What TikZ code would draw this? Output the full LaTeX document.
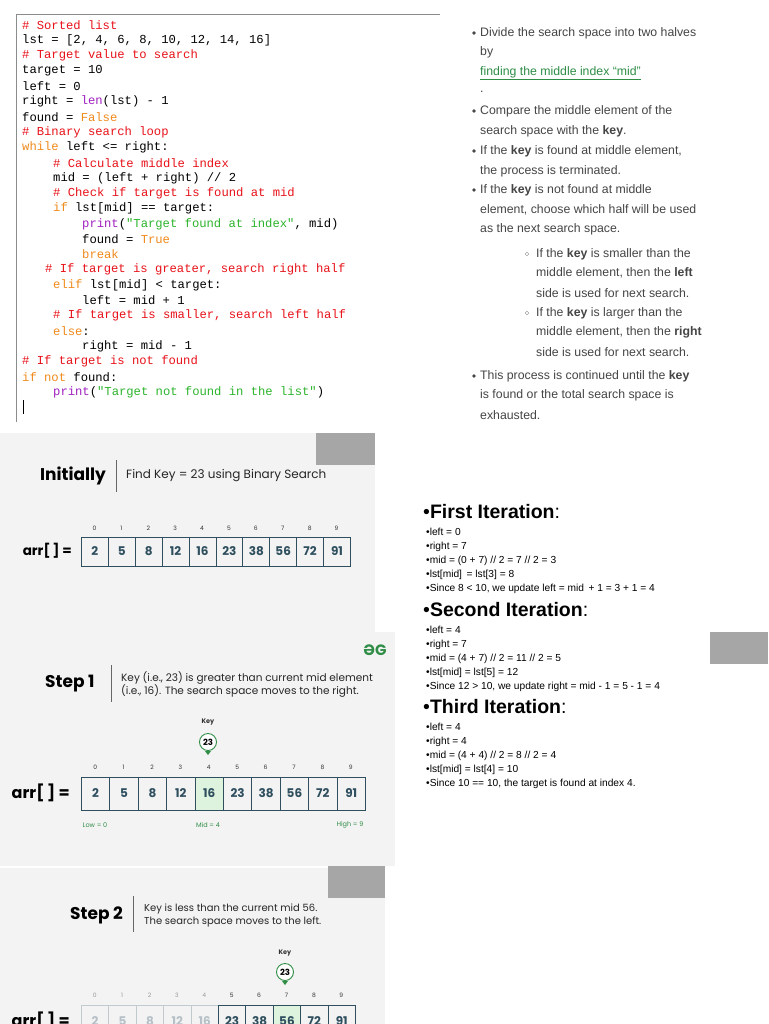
\documentclass[tikz,border=0pt]{standalone}
\usepackage{fontspec}
\setmainfont{Liberation Sans}
\setmonofont{Liberation Mono}
\newfontfamily\pop{Poppins}
\usetikzlibrary{shapes.geometric}
\definecolor{cm}{HTML}{E8121A}
\definecolor{kw}{HTML}{F08A1C}
\definecolor{st}{HTML}{2DB42D}
\definecolor{bi}{HTML}{A020C0}
\definecolor{txt}{HTML}{454545}
\definecolor{panel}{HTML}{F3F3F3}
\definecolor{cellc}{HTML}{2F4F5F}
\definecolor{gg}{HTML}{2F8D46}
\definecolor{lg}{HTML}{DDF3DD}
\tikzset{
  code/.style={anchor=west,inner sep=0pt,font=\ttfamily\fontsize{12.2}{12}\selectfont},
  bul/.style={anchor=west,inner sep=0pt,text=txt,font=\fontsize{12.3}{14}\selectfont},
  it/.style={anchor=west,inner sep=0pt,font=\fontsize{10.2}{11}\selectfont},
  ithead/.style={anchor=west,inner sep=0pt,font=\fontsize{19.5}{21}\selectfont},
  cellbox/.style={draw=cellc,line width=0.9pt,minimum height=#1,inner sep=0pt,anchor=west,text=cellc,font=\pop\bfseries\fontsize{12}{12}\selectfont},
  idx/.style={inner sep=0pt,font=\pop\fontsize{6}{7}\selectfont,text=black!80},
  stepttl/.style={anchor=west,inner sep=0pt,font=\pop\bfseries\fontsize{17}{18}\selectfont},
  steptxt/.style={anchor=west,inner sep=0pt,align=left,font=\pop\fontsize{10.5}{13}\selectfont,text=black!85},
  grey/.style={fill=black!35},
}
\begin{document}
\begin{tikzpicture}[x=1pt,y=-1pt]
\useasboundingbox (0,0) rectangle (768,1024);
\fill[white] (0,0) rectangle (768,1024);
% code box
\draw[black!45,line width=1pt] (16,422) -- (16,15) -- (440,15);
\node[code] (c1) at (22,25) {\textcolor{cm}{\# Sorted list}};
\node[code] (c2) at (22,40.3) {lst = [2, 4, 6, 8, 10, 12, 14, 16]};
\node[code] (c3) at (22,55.6) {\textcolor{cm}{\# Target value to search}};
\node[code] (c4) at (22,70.9) {target = 10};
\node[code] (c5) at (22,86.2) {left = 0};
\node[code] (c6) at (22,101.5) {right = \textcolor{bi}{len}(lst) - 1};
\node[code] (c7) at (22,116.8) {found = \textcolor{kw}{False}};
\node[code] (c8) at (22,132.1) {\textcolor{cm}{\# Binary search loop}};
\node[code] (c9) at (22,147.4) {\textcolor{kw}{while} left <= right:};
\node[code] (c10) at (53,162.7) {\textcolor{cm}{\# Calculate middle index}};
\node[code] (c11) at (53,178) {mid = (left + right) // 2};
\node[code] (c12) at (53,193.3) {\textcolor{cm}{\# Check if target is found at mid}};
\node[code] (c13) at (53,208.6) {\textcolor{kw}{if} lst[mid] == target:};
\node[code] (c14) at (82,223.9) {\textcolor{bi}{print}(\textcolor{st}{"Target found at index"}, mid)};
\node[code] (c15) at (82,239.2) {found = \textcolor{kw}{True}};
\node[code] (c16) at (82,254.5) {\textcolor{kw}{break}};
\node[code] (c17) at (45,269.8) {\textcolor{cm}{\# If target is greater, search right half}};
\node[code] (c18) at (53,285.1) {\textcolor{kw}{elif} lst[mid] < target:};
\node[code] (c19) at (82,300.4) {left = mid + 1};
\node[code] (c20) at (53,315.7) {\textcolor{cm}{\# If target is smaller, search left half}};
\node[code] (c21) at (53,331) {\textcolor{kw}{else}:};
\node[code] (c22) at (82,346.3) {right = mid - 1};
\node[code] (c23) at (22,361.6) {\textcolor{cm}{\# If target is not found}};
\node[code] (c24) at (22,376.9) {\textcolor{kw}{if} \textcolor{kw}{not} found:};
\node[code] (c25) at (53,392.2) {\textcolor{bi}{print}(\textcolor{st}{"Target not found in the list"})};
\draw[black,line width=0.8pt] (23,400) -- (23,414);
% right bullets
\foreach \y in {33,111,151,190,376} \fill[txt] (474,\y) circle (1.9);
\foreach \y in {254,313} \draw[txt!60] (527,\y) circle (1.9);
\node[bul] (b1) at (480,33) {Divide the search space into two halves};
\node[bul] (b2) at (480,52) {by};
\node[bul,text=gg] (b3) at (480,73) {\underline{finding the middle index “mid”}};
\node[bul] (b4) at (480,92) {.};
\node[bul] (b5) at (480,111) {Compare the middle element of the};
\node[bul] (b6) at (480,131) {search space with the \textbf{key}.};
\node[bul] (b7) at (480,151) {If the \textbf{key} is found at middle element,};
\node[bul] (b8) at (480,171) {the process is terminated.};
\node[bul] (b9) at (480,190) {If the \textbf{key} is not found at middle};
\node[bul] (b10) at (480,210) {element, choose which half will be used};
\node[bul] (b11) at (480,229) {as the next search space.};
\node[bul] (b12) at (536,254) {If the \textbf{key} is smaller than the};
\node[bul] (b13) at (536,273) {middle element, then the \textbf{left}};
\node[bul] (b14) at (536,293) {side is used for next search.};
\node[bul] (b15) at (536,313) {If the \textbf{key} is larger than the};
\node[bul] (b16) at (536,332) {middle element, then the \textbf{right}};
\node[bul] (b17) at (536,352) {side is used for next search.};
\node[bul] (b18) at (480,376) {This process is continued until the \textbf{key}};
\node[bul] (b19) at (480,395) {is found or the total search space is};
\node[bul] (b20) at (480,415) {exhausted.};
% panels
\fill[panel] (0,433) rectangle (375,632);
\fill[panel] (0,632) rectangle (395,866);
\fill[panel] (0,868) rectangle (385,1024);
\fill[grey] (316,433) rectangle (375,465);
\fill[grey] (328,866) rectangle (385,898);
\fill[grey] (710,632) rectangle (768,664);
% Initially
\node[stepttl] (t0) at (40,476) {Initially};
\draw[black!60,line width=0.6pt] (116,460) -- (116,492);
\node[steptxt,font=\pop\fontsize{12}{14}\selectfont] (d0) at (126,476) {Find Key = 23 using Binary Search};
\node[anchor=east,inner sep=0pt,font=\pop\bfseries\fontsize{13.5}{14}\selectfont] (a0) at (72,551) {arr[\,] =};
\foreach \v [count=\i from 0] in {2,5,8,12,16,23,38,56,72,91} {
  \node[cellbox=29,minimum width=26.9] (p\i) at (81+26.9*\i,551.5) {\v};
  \node[idx] (q\i) at (94.5+26.9*\i,528) {\i};
}
% Step 1
\node[stepttl] (t1) at (45,684) {Step 1};
\draw[black!60,line width=0.6pt] (111,665) -- (111,702);
\node[steptxt] (d1) at (121,684.5) {Key (i.e., 23) is greater than current mid element\\(i.e., 16). The search space moves to the right.};
\node[text=gg,font=\pop\bfseries\fontsize{15}{16}\selectfont,inner sep=0pt] (logo) at (375,650) {ƏG};
\node[idx,font=\pop\bfseries\fontsize{6.5}{7}\selectfont] (k1) at (208,722) {Key};
\node[draw=gg,line width=0.9pt,circle,fill=white,minimum size=17,inner sep=0pt,font=\pop\bfseries\fontsize{8.5}{9}\selectfont] (kc1) at (208,742) {23};
\fill[gg] (205,751) -- (211,751) -- (208,755) -- cycle;
\node[anchor=east,inner sep=0pt,font=\pop\bfseries\fontsize{16}{17}\selectfont] (a1) at (70,793) {arr[\,] =};
\fill[lg] (81+28.4*4,777) rectangle (81+28.4*5,810);
\foreach \v [count=\i from 0] in {2,5,8,12,16,23,38,56,72,91} {
  \node[cellbox=33,minimum width=28.4] (r\i) at (81+28.4*\i,793.5) {\v};
  \node[idx] (s\i) at (95.2+28.4*\i,767) {\i};
}
\node[idx,text=gg,font=\pop\fontsize{6.5}{7}\selectfont] (lo1) at (95,825) {Low = 0};
\node[idx,text=gg,font=\pop\fontsize{6.5}{7}\selectfont] (mi1) at (208,825) {Mid = 4};
\node[idx,text=gg,font=\pop\fontsize{6.5}{7}\selectfont] (hi1) at (350,825) {High = 9};
% Step 2
\node[stepttl] (t2) at (70,915) {Step 2};
\draw[black!60,line width=0.6pt] (133,896) -- (133,932);
\node[steptxt,font=\pop\fontsize{10}{13}\selectfont] (d2) at (144,915.5) {Key is less than the current mid 56.\\The search space moves to the left.};
\node[idx,font=\pop\bfseries\fontsize{6.5}{7}\selectfont] (k2) at (285,953) {Key};
\node[draw=gg,line width=0.9pt,circle,fill=white,minimum size=17,inner sep=0pt,font=\pop\bfseries\fontsize{8.5}{9}\selectfont] (kc2) at (285,972) {23};
\fill[gg] (282,981) -- (288,981) -- (285,985) -- cycle;
\node[anchor=east,inner sep=0pt,font=\pop\bfseries\fontsize{16}{17}\selectfont] (a2) at (70,1021) {arr[\,] =};
\foreach \v [count=\i from 0] in {2,5,8,12,16} {
  \node[cellbox=31,minimum width=27.4,draw=cellc!30,text=cellc!35] (u\i) at (81+27.4*\i,1021) {\v};
  \node[idx,text=black!40] (w\i) at (94.7+27.4*\i,995) {\i};
}
\foreach \v [count=\i from 5] in {23,38,56,72,91} {
  \node[idx] (w\i) at (94.7+27.4*\i,995) {\i};
}
\fill[lg] (81+27.4*7,1006) rectangle (81+27.4*8,1036);
\foreach \v [count=\i from 5] in {23,38,56,72,91} {
  \node[cellbox=31,minimum width=27.4] (u\i) at (81+27.4*\i,1021) {\v};
}
% iterations
\node[ithead] (h1) at (423,512) {•\textbf{First Iteration}:};
\node[it] (f1) at (426,532) {•left = 0};
\node[it] (f2) at (426,546.5) {•right = 7};
\node[it] (f3) at (426,561) {•mid = (0 + 7) // 2 = 7 // 2 = 3};
\node[it] (f4) at (426,575) {•lst[mid]\, = lst[3] = 8};
\node[it] (f5) at (426,589) {•Since 8 < 10, we update left = mid \,+ 1 = 3 + 1 = 4};
\node[ithead] (h2) at (423,610) {•\textbf{Second Iteration}:};
\node[it] (g1) at (426,630) {•left = 4};
\node[it] (g2) at (426,644.5) {•right = 7};
\node[it] (g3) at (426,658.5) {•mid = (4 + 7) // 2 = 11 // 2 = 5};
\node[it] (g4) at (426,672.5) {•lst[mid] = lst[5] = 12};
\node[it] (g5) at (426,686.5) {•Since 12 > 10, we update right = mid - 1 = 5 - 1 = 4};
\node[ithead] (h3) at (423,707) {•\textbf{Third Iteration}:};
\node[it] (j1) at (426,727) {•left = 4};
\node[it] (j2) at (426,741.5) {•right = 4};
\node[it] (j3) at (426,755.5) {•mid = (4 + 4) // 2 = 8 // 2 = 4};
\node[it] (j4) at (426,769.5) {•lst[mid] = lst[4] = 10};
\node[it] (j5) at (426,783.5) {•Since 10 == 10, the target is found at index 4.};
\end{tikzpicture}
\end{document}
